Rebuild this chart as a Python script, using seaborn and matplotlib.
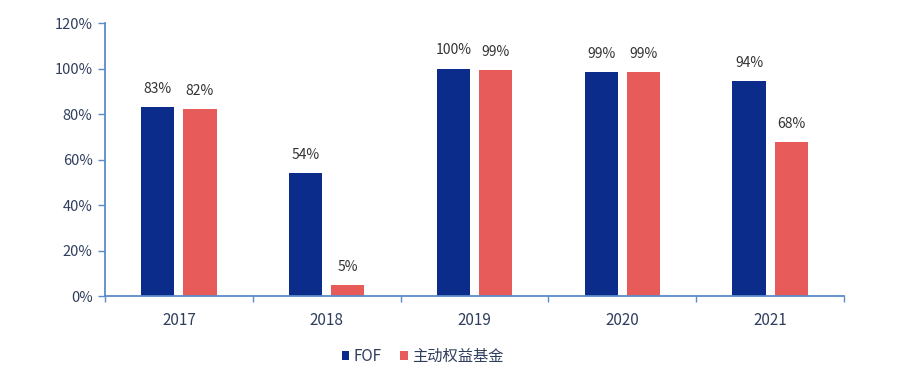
import numpy as np
import pandas as pd
import seaborn as sns
import matplotlib.pyplot as plt
from matplotlib.ticker import FixedLocator, PercentFormatter

years = ["2017", "2018", "2019", "2020", "2021"]
fof = [0.83, 0.54, 1.00, 0.985, 0.945]
equity = [0.82, 0.05, 0.995, 0.985, 0.675]
fof_labels = ["83%", "54%", "100%", "99%", "94%"]
equity_labels = ["82%", "5%", "99%", "99%", "68%"]
series = ["FOF", "主动权益基金"]

data = pd.DataFrame({
    "year": years * 2,
    "value": fof + equity,
    "kind": [series[0]] * 5 + [series[1]] * 5,
})

sns.set_style("white")
plt.rcParams['font.family'] = ['Noto Sans CJK SC', 'DejaVu Sans']

axis_col = "#5b8bc9"
text_col = "#2f3e5c"
colors = {series[0]: "#0b2c8a", series[1]: "#e85b5b"}

fig = plt.figure(figsize=(9.06, 3.72), dpi=100)
ax = fig.add_axes([0.1159, 0.2043, 0.8157, 0.7337])

sns.barplot(data=data, x="year", y="value", hue="kind", palette=colors,
            width=0.57, gap=0.21, saturation=1, linewidth=0, ax=ax, legend=True)

for cont, labs in zip(ax.containers, [fof_labels, equity_labels]):
    ax.bar_label(cont, labels=labs, padding=8, fontsize=10, color="#333333")

ax.set_ylim(0, 1.2)
ax.set_xlim(-0.5, 4.5)
ax.set_yticks(np.arange(0, 1.21, 0.2))
ax.yaxis.set_major_formatter(PercentFormatter(1.0, decimals=0))
ax.set_xlabel("")
ax.set_ylabel("")

for side in ["top", "right"]:
    ax.spines[side].set_visible(False)
for side in ["left", "bottom"]:
    ax.spines[side].set_color(axis_col)
    ax.spines[side].set_linewidth(1.3)

ax.tick_params(axis="y", left=True, length=5, width=1, color=axis_col,
               labelsize=10.5, labelcolor=text_col, pad=4)
ax.tick_params(axis="x", bottom=False, labelsize=11, labelcolor=text_col, pad=8)
ax.xaxis.set_minor_locator(FixedLocator(np.arange(-0.5, 4.6, 1)))
ax.tick_params(axis="x", which="minor", bottom=True, length=4, width=1, color=axis_col)

leg = ax.legend(loc="upper center", bbox_to_anchor=(0.43, -0.14), ncol=2, frameon=False,
                fontsize=11, handlelength=0.5, handleheight=0.5, handletextpad=0.3,
                columnspacing=1.2)
for t in leg.get_texts():
    t.set_color(text_col)

fig.savefig("out.png", dpi=100)
